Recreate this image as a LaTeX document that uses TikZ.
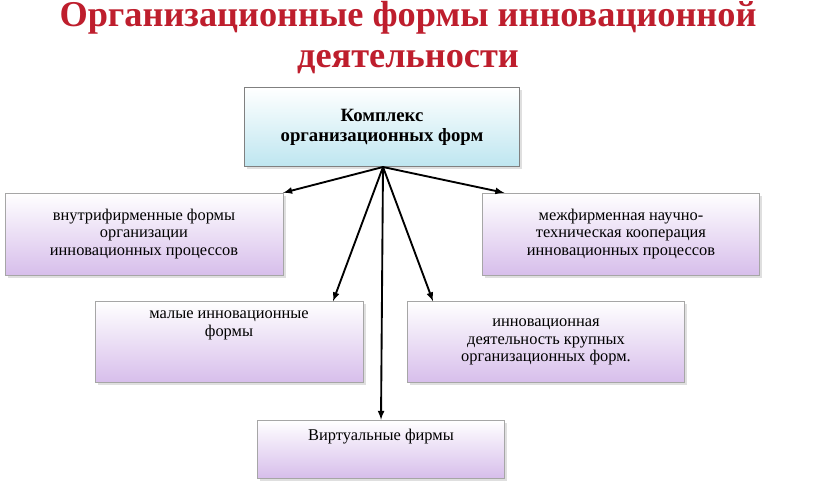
\documentclass[tikz,border=0pt]{standalone}
\usepackage{fontspec}
\setmainfont{Liberation Serif}
\usetikzlibrary{shadows}
\definecolor{titlered}{RGB}{190,30,45}
\definecolor{lilac}{RGB}{215,190,235}
\definecolor{cyanbox}{RGB}{190,230,240}
\tikzset{
  formbox/.style={draw=gray!70, top color=white, bottom color=lilac, align=center,
    font=\fontsize{14}{15}\selectfont, drop shadow={opacity=0.25}},
  linkarrow/.style={-latex, line width=1.6pt}
}
\begin{document}
\begin{tikzpicture}[x=0.03cm,y=-0.03cm]
\useasboundingbox (0,0) rectangle (818,486);
\node[font=\fontsize{31}{35}\selectfont\bfseries, text=titlered, align=center] (title) at (408,38)
  {Организационные формы инновационной\\деятельности};
\node[formbox, top color=white, bottom color=cyanbox, draw=gray, line width=1pt,
  font=\fontsize{16}{17}\selectfont\bfseries,
  minimum width=275*0.03cm, minimum height=79*0.03cm] (core) at (382,127)
  {Комплекс\\организационных форм};
\node[formbox, minimum width=278*0.03cm, minimum height=82*0.03cm] (inner) at (144,234)
  {внутрифирменные формы\\организации\\инновационных процессов};
\node[formbox, minimum width=277*0.03cm, minimum height=82*0.03cm] (inter) at (621,234)
  {межфирменная научно-\\техническая кооперация\\инновационных процессов};
\node[formbox, minimum width=268*0.03cm, minimum height=81*0.03cm] (small) at (229,342)
  {малые инновационные\\формы\\[1.2em]};
\node[formbox, minimum width=277*0.03cm, minimum height=81*0.03cm] (large) at (546,342)
  {инновационная\\деятельность крупных\\организационных форм.};
\node[formbox, minimum width=247*0.03cm, minimum height=58*0.03cm] (virtual) at (381,449)
  {Виртуальные фирмы\\[0.6em]};
\coordinate (hub) at (383,167);
\draw[linkarrow] (hub) -- (inner.north east);
\draw[linkarrow] (hub) -- ([xshift=22*0.03cm]inter.north west);
\draw[linkarrow] (hub) -- ([xshift=104*0.03cm]small.north);
\draw[linkarrow] (hub) -- ([xshift=-113*0.03cm]large.north);
\draw[linkarrow] (hub) -- (virtual.north);
\end{tikzpicture}
\end{document}
